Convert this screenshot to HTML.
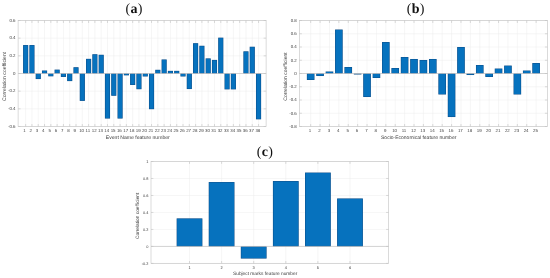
<!DOCTYPE html>
<html><head><meta charset="utf-8"><title>Figure</title>
<style>
html,body{margin:0;padding:0;background:#fff;}
body{width:550px;height:278px;overflow:hidden;}
svg{display:block;font-family:"Liberation Sans",sans-serif;text-rendering:geometricPrecision;}
.t{font-family:"Liberation Serif",serif;font-size:14px;fill:#111;letter-spacing:0.25px;}
.tb{font-weight:bold;}
</style></head><body>
<svg width="550" height="278" viewBox="0 0 550 278">
<rect width="550" height="278" fill="#fff"/>
<text class="t" x="134.1" y="13" text-anchor="middle">(<tspan class="tb">a</tspan>)</text>
<text class="t" x="415.7" y="13" text-anchor="middle">(<tspan class="tb">b</tspan>)</text>
<text class="t" x="265" y="155.6" text-anchor="middle">(<tspan class="tb">c</tspan>)</text>
<line x1="18.1" x2="266.1" y1="126.50" y2="126.50" stroke="#ececec" stroke-width="0.5"/>
<line x1="18.1" x2="266.1" y1="108.83" y2="108.83" stroke="#ececec" stroke-width="0.5"/>
<line x1="18.1" x2="266.1" y1="91.17" y2="91.17" stroke="#ececec" stroke-width="0.5"/>
<line x1="18.1" x2="266.1" y1="73.50" y2="73.50" stroke="#ececec" stroke-width="0.5"/>
<line x1="18.1" x2="266.1" y1="55.83" y2="55.83" stroke="#ececec" stroke-width="0.5"/>
<line x1="18.1" x2="266.1" y1="38.17" y2="38.17" stroke="#ececec" stroke-width="0.5"/>
<line x1="18.1" x2="266.1" y1="20.50" y2="20.50" stroke="#ececec" stroke-width="0.5"/>
<line x1="25.65" x2="25.65" y1="20.5" y2="126.5" stroke="#ececec" stroke-width="0.5"/>
<line x1="31.95" x2="31.95" y1="20.5" y2="126.5" stroke="#ececec" stroke-width="0.5"/>
<line x1="38.24" x2="38.24" y1="20.5" y2="126.5" stroke="#ececec" stroke-width="0.5"/>
<line x1="44.54" x2="44.54" y1="20.5" y2="126.5" stroke="#ececec" stroke-width="0.5"/>
<line x1="50.83" x2="50.83" y1="20.5" y2="126.5" stroke="#ececec" stroke-width="0.5"/>
<line x1="57.13" x2="57.13" y1="20.5" y2="126.5" stroke="#ececec" stroke-width="0.5"/>
<line x1="63.42" x2="63.42" y1="20.5" y2="126.5" stroke="#ececec" stroke-width="0.5"/>
<line x1="69.71" x2="69.71" y1="20.5" y2="126.5" stroke="#ececec" stroke-width="0.5"/>
<line x1="76.01" x2="76.01" y1="20.5" y2="126.5" stroke="#ececec" stroke-width="0.5"/>
<line x1="82.30" x2="82.30" y1="20.5" y2="126.5" stroke="#ececec" stroke-width="0.5"/>
<line x1="88.60" x2="88.60" y1="20.5" y2="126.5" stroke="#ececec" stroke-width="0.5"/>
<line x1="94.89" x2="94.89" y1="20.5" y2="126.5" stroke="#ececec" stroke-width="0.5"/>
<line x1="101.19" x2="101.19" y1="20.5" y2="126.5" stroke="#ececec" stroke-width="0.5"/>
<line x1="107.48" x2="107.48" y1="20.5" y2="126.5" stroke="#ececec" stroke-width="0.5"/>
<line x1="113.78" x2="113.78" y1="20.5" y2="126.5" stroke="#ececec" stroke-width="0.5"/>
<line x1="120.07" x2="120.07" y1="20.5" y2="126.5" stroke="#ececec" stroke-width="0.5"/>
<line x1="126.36" x2="126.36" y1="20.5" y2="126.5" stroke="#ececec" stroke-width="0.5"/>
<line x1="132.66" x2="132.66" y1="20.5" y2="126.5" stroke="#ececec" stroke-width="0.5"/>
<line x1="138.95" x2="138.95" y1="20.5" y2="126.5" stroke="#ececec" stroke-width="0.5"/>
<line x1="145.25" x2="145.25" y1="20.5" y2="126.5" stroke="#ececec" stroke-width="0.5"/>
<line x1="151.54" x2="151.54" y1="20.5" y2="126.5" stroke="#ececec" stroke-width="0.5"/>
<line x1="157.84" x2="157.84" y1="20.5" y2="126.5" stroke="#ececec" stroke-width="0.5"/>
<line x1="164.13" x2="164.13" y1="20.5" y2="126.5" stroke="#ececec" stroke-width="0.5"/>
<line x1="170.42" x2="170.42" y1="20.5" y2="126.5" stroke="#ececec" stroke-width="0.5"/>
<line x1="176.72" x2="176.72" y1="20.5" y2="126.5" stroke="#ececec" stroke-width="0.5"/>
<line x1="183.01" x2="183.01" y1="20.5" y2="126.5" stroke="#ececec" stroke-width="0.5"/>
<line x1="189.31" x2="189.31" y1="20.5" y2="126.5" stroke="#ececec" stroke-width="0.5"/>
<line x1="195.60" x2="195.60" y1="20.5" y2="126.5" stroke="#ececec" stroke-width="0.5"/>
<line x1="201.90" x2="201.90" y1="20.5" y2="126.5" stroke="#ececec" stroke-width="0.5"/>
<line x1="208.19" x2="208.19" y1="20.5" y2="126.5" stroke="#ececec" stroke-width="0.5"/>
<line x1="214.49" x2="214.49" y1="20.5" y2="126.5" stroke="#ececec" stroke-width="0.5"/>
<line x1="220.78" x2="220.78" y1="20.5" y2="126.5" stroke="#ececec" stroke-width="0.5"/>
<line x1="227.07" x2="227.07" y1="20.5" y2="126.5" stroke="#ececec" stroke-width="0.5"/>
<line x1="233.37" x2="233.37" y1="20.5" y2="126.5" stroke="#ececec" stroke-width="0.5"/>
<line x1="239.66" x2="239.66" y1="20.5" y2="126.5" stroke="#ececec" stroke-width="0.5"/>
<line x1="245.96" x2="245.96" y1="20.5" y2="126.5" stroke="#ececec" stroke-width="0.5"/>
<line x1="252.25" x2="252.25" y1="20.5" y2="126.5" stroke="#ececec" stroke-width="0.5"/>
<line x1="258.55" x2="258.55" y1="20.5" y2="126.5" stroke="#ececec" stroke-width="0.5"/>
<rect x="23.09" y="45.06" width="5.14" height="28.44" fill="#0a4c88"/>
<rect x="23.59" y="45.56" width="4.14" height="27.44" fill="#0672be"/>
<rect x="29.38" y="45.06" width="5.14" height="28.44" fill="#0a4c88"/>
<rect x="29.88" y="45.56" width="4.14" height="27.44" fill="#0672be"/>
<rect x="35.67" y="73.50" width="5.14" height="5.56" fill="#0a4c88"/>
<rect x="36.17" y="74.00" width="4.14" height="4.56" fill="#0672be"/>
<rect x="41.97" y="70.50" width="5.14" height="3.00" fill="#0a4c88"/>
<rect x="42.47" y="71.00" width="4.14" height="2.00" fill="#0672be"/>
<rect x="48.26" y="73.50" width="5.14" height="2.83" fill="#0a4c88"/>
<rect x="48.76" y="74.00" width="4.14" height="1.83" fill="#0672be"/>
<rect x="54.56" y="69.61" width="5.14" height="3.89" fill="#0a4c88"/>
<rect x="55.06" y="70.11" width="4.14" height="2.89" fill="#0672be"/>
<rect x="60.85" y="73.50" width="5.14" height="3.44" fill="#0a4c88"/>
<rect x="61.35" y="74.00" width="4.14" height="2.44" fill="#0672be"/>
<rect x="67.15" y="73.50" width="5.14" height="7.60" fill="#0a4c88"/>
<rect x="67.65" y="74.00" width="4.14" height="6.60" fill="#0672be"/>
<rect x="73.44" y="67.23" width="5.14" height="6.27" fill="#0a4c88"/>
<rect x="73.94" y="67.73" width="4.14" height="5.27" fill="#0672be"/>
<rect x="79.74" y="73.50" width="5.14" height="27.38" fill="#0a4c88"/>
<rect x="80.24" y="74.00" width="4.14" height="26.38" fill="#0672be"/>
<rect x="86.03" y="58.84" width="5.14" height="14.66" fill="#0a4c88"/>
<rect x="86.53" y="59.34" width="4.14" height="13.66" fill="#0672be"/>
<rect x="92.32" y="54.24" width="5.14" height="19.26" fill="#0a4c88"/>
<rect x="92.82" y="54.74" width="4.14" height="18.26" fill="#0672be"/>
<rect x="98.62" y="54.77" width="5.14" height="18.73" fill="#0a4c88"/>
<rect x="99.12" y="55.27" width="4.14" height="17.73" fill="#0672be"/>
<rect x="104.91" y="73.50" width="5.14" height="45.05" fill="#0a4c88"/>
<rect x="105.41" y="74.00" width="4.14" height="44.05" fill="#0672be"/>
<rect x="111.21" y="73.50" width="5.14" height="22.26" fill="#0a4c88"/>
<rect x="111.71" y="74.00" width="4.14" height="21.26" fill="#0672be"/>
<rect x="117.50" y="73.50" width="5.14" height="45.05" fill="#0a4c88"/>
<rect x="118.00" y="74.00" width="4.14" height="44.05" fill="#0672be"/>
<rect x="123.80" y="73.50" width="5.14" height="1.86" fill="#0a4c88"/>
<rect x="124.30" y="74.00" width="4.14" height="0.86" fill="#0672be"/>
<rect x="130.09" y="73.50" width="5.14" height="11.48" fill="#0a4c88"/>
<rect x="130.59" y="74.00" width="4.14" height="10.48" fill="#0672be"/>
<rect x="136.39" y="73.50" width="5.14" height="15.72" fill="#0a4c88"/>
<rect x="136.89" y="74.00" width="4.14" height="14.72" fill="#0672be"/>
<rect x="142.68" y="73.50" width="5.14" height="3.00" fill="#0a4c88"/>
<rect x="143.18" y="74.00" width="4.14" height="2.00" fill="#0672be"/>
<rect x="148.97" y="73.50" width="5.14" height="35.69" fill="#0a4c88"/>
<rect x="149.47" y="74.00" width="4.14" height="34.69" fill="#0672be"/>
<rect x="155.27" y="69.79" width="5.14" height="3.71" fill="#0a4c88"/>
<rect x="155.77" y="70.29" width="4.14" height="2.71" fill="#0672be"/>
<rect x="161.56" y="59.45" width="5.14" height="14.05" fill="#0a4c88"/>
<rect x="162.06" y="59.95" width="4.14" height="13.05" fill="#0672be"/>
<rect x="167.86" y="70.85" width="5.14" height="2.65" fill="#0a4c88"/>
<rect x="168.36" y="71.35" width="4.14" height="1.65" fill="#0672be"/>
<rect x="174.15" y="70.85" width="5.14" height="2.65" fill="#0a4c88"/>
<rect x="174.65" y="71.35" width="4.14" height="1.65" fill="#0672be"/>
<rect x="180.45" y="73.50" width="5.14" height="3.00" fill="#0a4c88"/>
<rect x="180.95" y="74.00" width="4.14" height="2.00" fill="#0672be"/>
<rect x="186.74" y="73.50" width="5.14" height="15.55" fill="#0a4c88"/>
<rect x="187.24" y="74.00" width="4.14" height="14.55" fill="#0672be"/>
<rect x="193.03" y="43.20" width="5.14" height="30.30" fill="#0a4c88"/>
<rect x="193.53" y="43.70" width="4.14" height="29.30" fill="#0672be"/>
<rect x="199.33" y="45.76" width="5.14" height="27.74" fill="#0a4c88"/>
<rect x="199.83" y="46.26" width="4.14" height="26.74" fill="#0672be"/>
<rect x="205.62" y="58.39" width="5.14" height="15.11" fill="#0a4c88"/>
<rect x="206.12" y="58.89" width="4.14" height="14.11" fill="#0672be"/>
<rect x="211.92" y="59.90" width="5.14" height="13.60" fill="#0a4c88"/>
<rect x="212.42" y="60.40" width="4.14" height="12.60" fill="#0672be"/>
<rect x="218.21" y="37.64" width="5.14" height="35.86" fill="#0a4c88"/>
<rect x="218.71" y="38.14" width="4.14" height="34.86" fill="#0672be"/>
<rect x="224.51" y="73.50" width="5.14" height="15.90" fill="#0a4c88"/>
<rect x="225.01" y="74.00" width="4.14" height="14.90" fill="#0672be"/>
<rect x="230.80" y="73.50" width="5.14" height="15.90" fill="#0a4c88"/>
<rect x="231.30" y="74.00" width="4.14" height="14.90" fill="#0672be"/>
<rect x="243.39" y="51.33" width="5.14" height="22.17" fill="#0a4c88"/>
<rect x="243.89" y="51.83" width="4.14" height="21.17" fill="#0672be"/>
<rect x="249.68" y="46.73" width="5.14" height="26.77" fill="#0a4c88"/>
<rect x="250.18" y="47.23" width="4.14" height="25.77" fill="#0672be"/>
<rect x="255.98" y="73.50" width="5.14" height="45.84" fill="#0a4c88"/>
<rect x="256.48" y="74.00" width="4.14" height="44.84" fill="#0672be"/>
<line x1="18.1" x2="266.1" y1="73.50" y2="73.50" stroke="#bcbcbc" stroke-width="0.6"/>
<rect x="18.1" y="20.5" width="248.00000000000003" height="106.0" fill="none" stroke="#c2c2c2" stroke-width="0.6"/>
<line x1="25.65" x2="25.65" y1="126.5" y2="124.02" stroke="#c2c2c2" stroke-width="0.6"/>
<line x1="25.65" x2="25.65" y1="20.5" y2="22.98" stroke="#c2c2c2" stroke-width="0.6"/>
<text x="24.45" y="132.2" font-size="4.4" text-anchor="middle" fill="#404040">1</text>
<line x1="31.95" x2="31.95" y1="126.5" y2="124.02" stroke="#c2c2c2" stroke-width="0.6"/>
<line x1="31.95" x2="31.95" y1="20.5" y2="22.98" stroke="#c2c2c2" stroke-width="0.6"/>
<text x="30.75" y="132.2" font-size="4.4" text-anchor="middle" fill="#404040">2</text>
<line x1="38.24" x2="38.24" y1="126.5" y2="124.02" stroke="#c2c2c2" stroke-width="0.6"/>
<line x1="38.24" x2="38.24" y1="20.5" y2="22.98" stroke="#c2c2c2" stroke-width="0.6"/>
<text x="37.04" y="132.2" font-size="4.4" text-anchor="middle" fill="#404040">3</text>
<line x1="44.54" x2="44.54" y1="126.5" y2="124.02" stroke="#c2c2c2" stroke-width="0.6"/>
<line x1="44.54" x2="44.54" y1="20.5" y2="22.98" stroke="#c2c2c2" stroke-width="0.6"/>
<text x="43.34" y="132.2" font-size="4.4" text-anchor="middle" fill="#404040">4</text>
<line x1="50.83" x2="50.83" y1="126.5" y2="124.02" stroke="#c2c2c2" stroke-width="0.6"/>
<line x1="50.83" x2="50.83" y1="20.5" y2="22.98" stroke="#c2c2c2" stroke-width="0.6"/>
<text x="49.63" y="132.2" font-size="4.4" text-anchor="middle" fill="#404040">5</text>
<line x1="57.13" x2="57.13" y1="126.5" y2="124.02" stroke="#c2c2c2" stroke-width="0.6"/>
<line x1="57.13" x2="57.13" y1="20.5" y2="22.98" stroke="#c2c2c2" stroke-width="0.6"/>
<text x="55.93" y="132.2" font-size="4.4" text-anchor="middle" fill="#404040">6</text>
<line x1="63.42" x2="63.42" y1="126.5" y2="124.02" stroke="#c2c2c2" stroke-width="0.6"/>
<line x1="63.42" x2="63.42" y1="20.5" y2="22.98" stroke="#c2c2c2" stroke-width="0.6"/>
<text x="62.22" y="132.2" font-size="4.4" text-anchor="middle" fill="#404040">7</text>
<line x1="69.71" x2="69.71" y1="126.5" y2="124.02" stroke="#c2c2c2" stroke-width="0.6"/>
<line x1="69.71" x2="69.71" y1="20.5" y2="22.98" stroke="#c2c2c2" stroke-width="0.6"/>
<text x="68.51" y="132.2" font-size="4.4" text-anchor="middle" fill="#404040">8</text>
<line x1="76.01" x2="76.01" y1="126.5" y2="124.02" stroke="#c2c2c2" stroke-width="0.6"/>
<line x1="76.01" x2="76.01" y1="20.5" y2="22.98" stroke="#c2c2c2" stroke-width="0.6"/>
<text x="74.81" y="132.2" font-size="4.4" text-anchor="middle" fill="#404040">9</text>
<line x1="82.30" x2="82.30" y1="126.5" y2="124.02" stroke="#c2c2c2" stroke-width="0.6"/>
<line x1="82.30" x2="82.30" y1="20.5" y2="22.98" stroke="#c2c2c2" stroke-width="0.6"/>
<text x="81.60" y="132.2" font-size="4.4" text-anchor="middle" fill="#404040">10</text>
<line x1="88.60" x2="88.60" y1="126.5" y2="124.02" stroke="#c2c2c2" stroke-width="0.6"/>
<line x1="88.60" x2="88.60" y1="20.5" y2="22.98" stroke="#c2c2c2" stroke-width="0.6"/>
<text x="87.90" y="132.2" font-size="4.4" text-anchor="middle" fill="#404040">11</text>
<line x1="94.89" x2="94.89" y1="126.5" y2="124.02" stroke="#c2c2c2" stroke-width="0.6"/>
<line x1="94.89" x2="94.89" y1="20.5" y2="22.98" stroke="#c2c2c2" stroke-width="0.6"/>
<text x="94.19" y="132.2" font-size="4.4" text-anchor="middle" fill="#404040">12</text>
<line x1="101.19" x2="101.19" y1="126.5" y2="124.02" stroke="#c2c2c2" stroke-width="0.6"/>
<line x1="101.19" x2="101.19" y1="20.5" y2="22.98" stroke="#c2c2c2" stroke-width="0.6"/>
<text x="100.49" y="132.2" font-size="4.4" text-anchor="middle" fill="#404040">13</text>
<line x1="107.48" x2="107.48" y1="126.5" y2="124.02" stroke="#c2c2c2" stroke-width="0.6"/>
<line x1="107.48" x2="107.48" y1="20.5" y2="22.98" stroke="#c2c2c2" stroke-width="0.6"/>
<text x="106.78" y="132.2" font-size="4.4" text-anchor="middle" fill="#404040">14</text>
<line x1="113.78" x2="113.78" y1="126.5" y2="124.02" stroke="#c2c2c2" stroke-width="0.6"/>
<line x1="113.78" x2="113.78" y1="20.5" y2="22.98" stroke="#c2c2c2" stroke-width="0.6"/>
<text x="113.08" y="132.2" font-size="4.4" text-anchor="middle" fill="#404040">15</text>
<line x1="120.07" x2="120.07" y1="126.5" y2="124.02" stroke="#c2c2c2" stroke-width="0.6"/>
<line x1="120.07" x2="120.07" y1="20.5" y2="22.98" stroke="#c2c2c2" stroke-width="0.6"/>
<text x="119.37" y="132.2" font-size="4.4" text-anchor="middle" fill="#404040">16</text>
<line x1="126.36" x2="126.36" y1="126.5" y2="124.02" stroke="#c2c2c2" stroke-width="0.6"/>
<line x1="126.36" x2="126.36" y1="20.5" y2="22.98" stroke="#c2c2c2" stroke-width="0.6"/>
<text x="125.66" y="132.2" font-size="4.4" text-anchor="middle" fill="#404040">17</text>
<line x1="132.66" x2="132.66" y1="126.5" y2="124.02" stroke="#c2c2c2" stroke-width="0.6"/>
<line x1="132.66" x2="132.66" y1="20.5" y2="22.98" stroke="#c2c2c2" stroke-width="0.6"/>
<text x="131.96" y="132.2" font-size="4.4" text-anchor="middle" fill="#404040">18</text>
<line x1="138.95" x2="138.95" y1="126.5" y2="124.02" stroke="#c2c2c2" stroke-width="0.6"/>
<line x1="138.95" x2="138.95" y1="20.5" y2="22.98" stroke="#c2c2c2" stroke-width="0.6"/>
<text x="138.25" y="132.2" font-size="4.4" text-anchor="middle" fill="#404040">19</text>
<line x1="145.25" x2="145.25" y1="126.5" y2="124.02" stroke="#c2c2c2" stroke-width="0.6"/>
<line x1="145.25" x2="145.25" y1="20.5" y2="22.98" stroke="#c2c2c2" stroke-width="0.6"/>
<text x="144.55" y="132.2" font-size="4.4" text-anchor="middle" fill="#404040">20</text>
<line x1="151.54" x2="151.54" y1="126.5" y2="124.02" stroke="#c2c2c2" stroke-width="0.6"/>
<line x1="151.54" x2="151.54" y1="20.5" y2="22.98" stroke="#c2c2c2" stroke-width="0.6"/>
<text x="150.84" y="132.2" font-size="4.4" text-anchor="middle" fill="#404040">21</text>
<line x1="157.84" x2="157.84" y1="126.5" y2="124.02" stroke="#c2c2c2" stroke-width="0.6"/>
<line x1="157.84" x2="157.84" y1="20.5" y2="22.98" stroke="#c2c2c2" stroke-width="0.6"/>
<text x="157.14" y="132.2" font-size="4.4" text-anchor="middle" fill="#404040">22</text>
<line x1="164.13" x2="164.13" y1="126.5" y2="124.02" stroke="#c2c2c2" stroke-width="0.6"/>
<line x1="164.13" x2="164.13" y1="20.5" y2="22.98" stroke="#c2c2c2" stroke-width="0.6"/>
<text x="163.43" y="132.2" font-size="4.4" text-anchor="middle" fill="#404040">23</text>
<line x1="170.42" x2="170.42" y1="126.5" y2="124.02" stroke="#c2c2c2" stroke-width="0.6"/>
<line x1="170.42" x2="170.42" y1="20.5" y2="22.98" stroke="#c2c2c2" stroke-width="0.6"/>
<text x="169.72" y="132.2" font-size="4.4" text-anchor="middle" fill="#404040">24</text>
<line x1="176.72" x2="176.72" y1="126.5" y2="124.02" stroke="#c2c2c2" stroke-width="0.6"/>
<line x1="176.72" x2="176.72" y1="20.5" y2="22.98" stroke="#c2c2c2" stroke-width="0.6"/>
<text x="176.02" y="132.2" font-size="4.4" text-anchor="middle" fill="#404040">25</text>
<line x1="183.01" x2="183.01" y1="126.5" y2="124.02" stroke="#c2c2c2" stroke-width="0.6"/>
<line x1="183.01" x2="183.01" y1="20.5" y2="22.98" stroke="#c2c2c2" stroke-width="0.6"/>
<text x="182.31" y="132.2" font-size="4.4" text-anchor="middle" fill="#404040">26</text>
<line x1="189.31" x2="189.31" y1="126.5" y2="124.02" stroke="#c2c2c2" stroke-width="0.6"/>
<line x1="189.31" x2="189.31" y1="20.5" y2="22.98" stroke="#c2c2c2" stroke-width="0.6"/>
<text x="188.61" y="132.2" font-size="4.4" text-anchor="middle" fill="#404040">27</text>
<line x1="195.60" x2="195.60" y1="126.5" y2="124.02" stroke="#c2c2c2" stroke-width="0.6"/>
<line x1="195.60" x2="195.60" y1="20.5" y2="22.98" stroke="#c2c2c2" stroke-width="0.6"/>
<text x="194.90" y="132.2" font-size="4.4" text-anchor="middle" fill="#404040">28</text>
<line x1="201.90" x2="201.90" y1="126.5" y2="124.02" stroke="#c2c2c2" stroke-width="0.6"/>
<line x1="201.90" x2="201.90" y1="20.5" y2="22.98" stroke="#c2c2c2" stroke-width="0.6"/>
<text x="201.20" y="132.2" font-size="4.4" text-anchor="middle" fill="#404040">29</text>
<line x1="208.19" x2="208.19" y1="126.5" y2="124.02" stroke="#c2c2c2" stroke-width="0.6"/>
<line x1="208.19" x2="208.19" y1="20.5" y2="22.98" stroke="#c2c2c2" stroke-width="0.6"/>
<text x="207.49" y="132.2" font-size="4.4" text-anchor="middle" fill="#404040">30</text>
<line x1="214.49" x2="214.49" y1="126.5" y2="124.02" stroke="#c2c2c2" stroke-width="0.6"/>
<line x1="214.49" x2="214.49" y1="20.5" y2="22.98" stroke="#c2c2c2" stroke-width="0.6"/>
<text x="213.79" y="132.2" font-size="4.4" text-anchor="middle" fill="#404040">31</text>
<line x1="220.78" x2="220.78" y1="126.5" y2="124.02" stroke="#c2c2c2" stroke-width="0.6"/>
<line x1="220.78" x2="220.78" y1="20.5" y2="22.98" stroke="#c2c2c2" stroke-width="0.6"/>
<text x="220.08" y="132.2" font-size="4.4" text-anchor="middle" fill="#404040">32</text>
<line x1="227.07" x2="227.07" y1="126.5" y2="124.02" stroke="#c2c2c2" stroke-width="0.6"/>
<line x1="227.07" x2="227.07" y1="20.5" y2="22.98" stroke="#c2c2c2" stroke-width="0.6"/>
<text x="226.37" y="132.2" font-size="4.4" text-anchor="middle" fill="#404040">33</text>
<line x1="233.37" x2="233.37" y1="126.5" y2="124.02" stroke="#c2c2c2" stroke-width="0.6"/>
<line x1="233.37" x2="233.37" y1="20.5" y2="22.98" stroke="#c2c2c2" stroke-width="0.6"/>
<text x="232.67" y="132.2" font-size="4.4" text-anchor="middle" fill="#404040">34</text>
<line x1="239.66" x2="239.66" y1="126.5" y2="124.02" stroke="#c2c2c2" stroke-width="0.6"/>
<line x1="239.66" x2="239.66" y1="20.5" y2="22.98" stroke="#c2c2c2" stroke-width="0.6"/>
<text x="238.96" y="132.2" font-size="4.4" text-anchor="middle" fill="#404040">35</text>
<line x1="245.96" x2="245.96" y1="126.5" y2="124.02" stroke="#c2c2c2" stroke-width="0.6"/>
<line x1="245.96" x2="245.96" y1="20.5" y2="22.98" stroke="#c2c2c2" stroke-width="0.6"/>
<text x="245.26" y="132.2" font-size="4.4" text-anchor="middle" fill="#404040">36</text>
<line x1="252.25" x2="252.25" y1="126.5" y2="124.02" stroke="#c2c2c2" stroke-width="0.6"/>
<line x1="252.25" x2="252.25" y1="20.5" y2="22.98" stroke="#c2c2c2" stroke-width="0.6"/>
<text x="251.55" y="132.2" font-size="4.4" text-anchor="middle" fill="#404040">37</text>
<line x1="258.55" x2="258.55" y1="126.5" y2="124.02" stroke="#c2c2c2" stroke-width="0.6"/>
<line x1="258.55" x2="258.55" y1="20.5" y2="22.98" stroke="#c2c2c2" stroke-width="0.6"/>
<text x="257.85" y="132.2" font-size="4.4" text-anchor="middle" fill="#404040">38</text>
<line x1="18.1" x2="20.58" y1="126.50" y2="126.50" stroke="#c2c2c2" stroke-width="0.6"/>
<line x1="266.1" x2="263.62" y1="126.50" y2="126.50" stroke="#c2c2c2" stroke-width="0.6"/>
<text x="15.50" y="127.78" font-size="4.4" text-anchor="end" fill="#404040">-0.6</text>
<line x1="18.1" x2="20.58" y1="108.83" y2="108.83" stroke="#c2c2c2" stroke-width="0.6"/>
<line x1="266.1" x2="263.62" y1="108.83" y2="108.83" stroke="#c2c2c2" stroke-width="0.6"/>
<text x="15.50" y="110.12" font-size="4.4" text-anchor="end" fill="#404040">-0.4</text>
<line x1="18.1" x2="20.58" y1="91.17" y2="91.17" stroke="#c2c2c2" stroke-width="0.6"/>
<line x1="266.1" x2="263.62" y1="91.17" y2="91.17" stroke="#c2c2c2" stroke-width="0.6"/>
<text x="15.50" y="92.45" font-size="4.4" text-anchor="end" fill="#404040">-0.2</text>
<line x1="18.1" x2="20.58" y1="73.50" y2="73.50" stroke="#c2c2c2" stroke-width="0.6"/>
<line x1="266.1" x2="263.62" y1="73.50" y2="73.50" stroke="#c2c2c2" stroke-width="0.6"/>
<text x="15.50" y="74.78" font-size="4.4" text-anchor="end" fill="#404040">0</text>
<line x1="18.1" x2="20.58" y1="55.83" y2="55.83" stroke="#c2c2c2" stroke-width="0.6"/>
<line x1="266.1" x2="263.62" y1="55.83" y2="55.83" stroke="#c2c2c2" stroke-width="0.6"/>
<text x="15.50" y="57.12" font-size="4.4" text-anchor="end" fill="#404040">0.2</text>
<line x1="18.1" x2="20.58" y1="38.17" y2="38.17" stroke="#c2c2c2" stroke-width="0.6"/>
<line x1="266.1" x2="263.62" y1="38.17" y2="38.17" stroke="#c2c2c2" stroke-width="0.6"/>
<text x="15.50" y="39.45" font-size="4.4" text-anchor="end" fill="#404040">0.4</text>
<line x1="18.1" x2="20.58" y1="20.50" y2="20.50" stroke="#c2c2c2" stroke-width="0.6"/>
<line x1="266.1" x2="263.62" y1="20.50" y2="20.50" stroke="#c2c2c2" stroke-width="0.6"/>
<text x="15.50" y="21.78" font-size="4.4" text-anchor="end" fill="#404040">0.6</text>
<text x="137.80" y="138.5" font-size="5.1" text-anchor="middle" fill="#404040">Event Name feature number</text>
<text transform="translate(6.0,76.40) rotate(-90)" font-size="5.1" text-anchor="middle" fill="#404040">Correlation coefficient</text>
<line x1="299.4" x2="547.4" y1="126.50" y2="126.50" stroke="#ececec" stroke-width="0.5"/>
<line x1="299.4" x2="547.4" y1="113.25" y2="113.25" stroke="#ececec" stroke-width="0.5"/>
<line x1="299.4" x2="547.4" y1="100.00" y2="100.00" stroke="#ececec" stroke-width="0.5"/>
<line x1="299.4" x2="547.4" y1="86.75" y2="86.75" stroke="#ececec" stroke-width="0.5"/>
<line x1="299.4" x2="547.4" y1="73.50" y2="73.50" stroke="#ececec" stroke-width="0.5"/>
<line x1="299.4" x2="547.4" y1="60.25" y2="60.25" stroke="#ececec" stroke-width="0.5"/>
<line x1="299.4" x2="547.4" y1="47.00" y2="47.00" stroke="#ececec" stroke-width="0.5"/>
<line x1="299.4" x2="547.4" y1="33.75" y2="33.75" stroke="#ececec" stroke-width="0.5"/>
<line x1="299.4" x2="547.4" y1="20.50" y2="20.50" stroke="#ececec" stroke-width="0.5"/>
<line x1="310.67" x2="310.67" y1="20.5" y2="126.5" stroke="#ececec" stroke-width="0.5"/>
<line x1="320.07" x2="320.07" y1="20.5" y2="126.5" stroke="#ececec" stroke-width="0.5"/>
<line x1="329.46" x2="329.46" y1="20.5" y2="126.5" stroke="#ececec" stroke-width="0.5"/>
<line x1="338.85" x2="338.85" y1="20.5" y2="126.5" stroke="#ececec" stroke-width="0.5"/>
<line x1="348.25" x2="348.25" y1="20.5" y2="126.5" stroke="#ececec" stroke-width="0.5"/>
<line x1="357.64" x2="357.64" y1="20.5" y2="126.5" stroke="#ececec" stroke-width="0.5"/>
<line x1="367.04" x2="367.04" y1="20.5" y2="126.5" stroke="#ececec" stroke-width="0.5"/>
<line x1="376.43" x2="376.43" y1="20.5" y2="126.5" stroke="#ececec" stroke-width="0.5"/>
<line x1="385.82" x2="385.82" y1="20.5" y2="126.5" stroke="#ececec" stroke-width="0.5"/>
<line x1="395.22" x2="395.22" y1="20.5" y2="126.5" stroke="#ececec" stroke-width="0.5"/>
<line x1="404.61" x2="404.61" y1="20.5" y2="126.5" stroke="#ececec" stroke-width="0.5"/>
<line x1="414.01" x2="414.01" y1="20.5" y2="126.5" stroke="#ececec" stroke-width="0.5"/>
<line x1="423.40" x2="423.40" y1="20.5" y2="126.5" stroke="#ececec" stroke-width="0.5"/>
<line x1="432.79" x2="432.79" y1="20.5" y2="126.5" stroke="#ececec" stroke-width="0.5"/>
<line x1="442.19" x2="442.19" y1="20.5" y2="126.5" stroke="#ececec" stroke-width="0.5"/>
<line x1="451.58" x2="451.58" y1="20.5" y2="126.5" stroke="#ececec" stroke-width="0.5"/>
<line x1="460.98" x2="460.98" y1="20.5" y2="126.5" stroke="#ececec" stroke-width="0.5"/>
<line x1="470.37" x2="470.37" y1="20.5" y2="126.5" stroke="#ececec" stroke-width="0.5"/>
<line x1="479.76" x2="479.76" y1="20.5" y2="126.5" stroke="#ececec" stroke-width="0.5"/>
<line x1="489.16" x2="489.16" y1="20.5" y2="126.5" stroke="#ececec" stroke-width="0.5"/>
<line x1="498.55" x2="498.55" y1="20.5" y2="126.5" stroke="#ececec" stroke-width="0.5"/>
<line x1="507.95" x2="507.95" y1="20.5" y2="126.5" stroke="#ececec" stroke-width="0.5"/>
<line x1="517.34" x2="517.34" y1="20.5" y2="126.5" stroke="#ececec" stroke-width="0.5"/>
<line x1="526.73" x2="526.73" y1="20.5" y2="126.5" stroke="#ececec" stroke-width="0.5"/>
<line x1="536.13" x2="536.13" y1="20.5" y2="126.5" stroke="#ececec" stroke-width="0.5"/>
<rect x="306.87" y="73.50" width="7.62" height="6.49" fill="#0a4c88"/>
<rect x="307.37" y="74.00" width="6.62" height="5.49" fill="#0672be"/>
<rect x="316.26" y="73.50" width="7.62" height="2.52" fill="#0a4c88"/>
<rect x="316.76" y="74.00" width="6.62" height="1.52" fill="#0672be"/>
<rect x="325.65" y="71.51" width="7.62" height="1.99" fill="#0a4c88"/>
<rect x="326.15" y="72.01" width="6.62" height="0.99" fill="#0672be"/>
<rect x="335.05" y="29.51" width="7.62" height="43.99" fill="#0a4c88"/>
<rect x="335.55" y="30.01" width="6.62" height="42.99" fill="#0672be"/>
<rect x="344.44" y="67.01" width="7.62" height="6.49" fill="#0a4c88"/>
<rect x="344.94" y="67.51" width="6.62" height="5.49" fill="#0672be"/>
<rect x="353.83" y="73.50" width="7.62" height="0.99" fill="#0a4c88"/>
<rect x="363.23" y="73.50" width="7.62" height="23.52" fill="#0a4c88"/>
<rect x="363.73" y="74.00" width="6.62" height="22.52" fill="#0672be"/>
<rect x="372.62" y="73.50" width="7.62" height="4.50" fill="#0a4c88"/>
<rect x="373.12" y="74.00" width="6.62" height="3.50" fill="#0672be"/>
<rect x="382.02" y="42.03" width="7.62" height="31.47" fill="#0a4c88"/>
<rect x="382.52" y="42.53" width="6.62" height="30.47" fill="#0672be"/>
<rect x="391.41" y="68.00" width="7.62" height="5.50" fill="#0a4c88"/>
<rect x="391.91" y="68.50" width="6.62" height="4.50" fill="#0672be"/>
<rect x="400.80" y="57.00" width="7.62" height="16.50" fill="#0a4c88"/>
<rect x="401.30" y="57.50" width="6.62" height="15.50" fill="#0672be"/>
<rect x="410.20" y="58.99" width="7.62" height="14.51" fill="#0a4c88"/>
<rect x="410.70" y="59.49" width="6.62" height="13.51" fill="#0672be"/>
<rect x="419.59" y="59.98" width="7.62" height="13.52" fill="#0a4c88"/>
<rect x="420.09" y="60.48" width="6.62" height="12.52" fill="#0672be"/>
<rect x="428.99" y="58.99" width="7.62" height="14.51" fill="#0a4c88"/>
<rect x="429.49" y="59.49" width="6.62" height="13.51" fill="#0672be"/>
<rect x="438.38" y="73.50" width="7.62" height="21.00" fill="#0a4c88"/>
<rect x="438.88" y="74.00" width="6.62" height="20.00" fill="#0672be"/>
<rect x="447.77" y="73.50" width="7.62" height="43.53" fill="#0a4c88"/>
<rect x="448.27" y="74.00" width="6.62" height="42.53" fill="#0672be"/>
<rect x="457.17" y="47.00" width="7.62" height="26.50" fill="#0a4c88"/>
<rect x="457.67" y="47.50" width="6.62" height="25.50" fill="#0672be"/>
<rect x="466.56" y="73.50" width="7.62" height="1.52" fill="#0a4c88"/>
<rect x="467.06" y="74.00" width="6.62" height="0.52" fill="#0672be"/>
<rect x="475.96" y="65.02" width="7.62" height="8.48" fill="#0a4c88"/>
<rect x="476.46" y="65.52" width="6.62" height="7.48" fill="#0672be"/>
<rect x="485.35" y="73.50" width="7.62" height="3.51" fill="#0a4c88"/>
<rect x="485.85" y="74.00" width="6.62" height="2.51" fill="#0672be"/>
<rect x="494.74" y="68.53" width="7.62" height="4.97" fill="#0a4c88"/>
<rect x="495.24" y="69.03" width="6.62" height="3.97" fill="#0672be"/>
<rect x="504.14" y="65.55" width="7.62" height="7.95" fill="#0a4c88"/>
<rect x="504.64" y="66.05" width="6.62" height="6.95" fill="#0672be"/>
<rect x="513.53" y="73.50" width="7.62" height="21.00" fill="#0a4c88"/>
<rect x="514.03" y="74.00" width="6.62" height="20.00" fill="#0672be"/>
<rect x="522.93" y="70.52" width="7.62" height="2.98" fill="#0a4c88"/>
<rect x="523.43" y="71.02" width="6.62" height="1.98" fill="#0672be"/>
<rect x="532.32" y="63.03" width="7.62" height="10.47" fill="#0a4c88"/>
<rect x="532.82" y="63.53" width="6.62" height="9.47" fill="#0672be"/>
<line x1="299.4" x2="547.4" y1="73.50" y2="73.50" stroke="#bcbcbc" stroke-width="0.6"/>
<rect x="299.4" y="20.5" width="248.0" height="106.0" fill="none" stroke="#c2c2c2" stroke-width="0.6"/>
<line x1="310.67" x2="310.67" y1="126.5" y2="124.02" stroke="#c2c2c2" stroke-width="0.6"/>
<line x1="310.67" x2="310.67" y1="20.5" y2="22.98" stroke="#c2c2c2" stroke-width="0.6"/>
<text x="310.07" y="132.2" font-size="4.4" text-anchor="middle" fill="#404040">1</text>
<line x1="320.07" x2="320.07" y1="126.5" y2="124.02" stroke="#c2c2c2" stroke-width="0.6"/>
<line x1="320.07" x2="320.07" y1="20.5" y2="22.98" stroke="#c2c2c2" stroke-width="0.6"/>
<text x="319.47" y="132.2" font-size="4.4" text-anchor="middle" fill="#404040">2</text>
<line x1="329.46" x2="329.46" y1="126.5" y2="124.02" stroke="#c2c2c2" stroke-width="0.6"/>
<line x1="329.46" x2="329.46" y1="20.5" y2="22.98" stroke="#c2c2c2" stroke-width="0.6"/>
<text x="328.86" y="132.2" font-size="4.4" text-anchor="middle" fill="#404040">3</text>
<line x1="338.85" x2="338.85" y1="126.5" y2="124.02" stroke="#c2c2c2" stroke-width="0.6"/>
<line x1="338.85" x2="338.85" y1="20.5" y2="22.98" stroke="#c2c2c2" stroke-width="0.6"/>
<text x="338.25" y="132.2" font-size="4.4" text-anchor="middle" fill="#404040">4</text>
<line x1="348.25" x2="348.25" y1="126.5" y2="124.02" stroke="#c2c2c2" stroke-width="0.6"/>
<line x1="348.25" x2="348.25" y1="20.5" y2="22.98" stroke="#c2c2c2" stroke-width="0.6"/>
<text x="347.65" y="132.2" font-size="4.4" text-anchor="middle" fill="#404040">5</text>
<line x1="357.64" x2="357.64" y1="126.5" y2="124.02" stroke="#c2c2c2" stroke-width="0.6"/>
<line x1="357.64" x2="357.64" y1="20.5" y2="22.98" stroke="#c2c2c2" stroke-width="0.6"/>
<text x="357.04" y="132.2" font-size="4.4" text-anchor="middle" fill="#404040">6</text>
<line x1="367.04" x2="367.04" y1="126.5" y2="124.02" stroke="#c2c2c2" stroke-width="0.6"/>
<line x1="367.04" x2="367.04" y1="20.5" y2="22.98" stroke="#c2c2c2" stroke-width="0.6"/>
<text x="366.44" y="132.2" font-size="4.4" text-anchor="middle" fill="#404040">7</text>
<line x1="376.43" x2="376.43" y1="126.5" y2="124.02" stroke="#c2c2c2" stroke-width="0.6"/>
<line x1="376.43" x2="376.43" y1="20.5" y2="22.98" stroke="#c2c2c2" stroke-width="0.6"/>
<text x="375.83" y="132.2" font-size="4.4" text-anchor="middle" fill="#404040">8</text>
<line x1="385.82" x2="385.82" y1="126.5" y2="124.02" stroke="#c2c2c2" stroke-width="0.6"/>
<line x1="385.82" x2="385.82" y1="20.5" y2="22.98" stroke="#c2c2c2" stroke-width="0.6"/>
<text x="385.22" y="132.2" font-size="4.4" text-anchor="middle" fill="#404040">9</text>
<line x1="395.22" x2="395.22" y1="126.5" y2="124.02" stroke="#c2c2c2" stroke-width="0.6"/>
<line x1="395.22" x2="395.22" y1="20.5" y2="22.98" stroke="#c2c2c2" stroke-width="0.6"/>
<text x="394.62" y="132.2" font-size="4.4" text-anchor="middle" fill="#404040">10</text>
<line x1="404.61" x2="404.61" y1="126.5" y2="124.02" stroke="#c2c2c2" stroke-width="0.6"/>
<line x1="404.61" x2="404.61" y1="20.5" y2="22.98" stroke="#c2c2c2" stroke-width="0.6"/>
<text x="404.01" y="132.2" font-size="4.4" text-anchor="middle" fill="#404040">11</text>
<line x1="414.01" x2="414.01" y1="126.5" y2="124.02" stroke="#c2c2c2" stroke-width="0.6"/>
<line x1="414.01" x2="414.01" y1="20.5" y2="22.98" stroke="#c2c2c2" stroke-width="0.6"/>
<text x="413.41" y="132.2" font-size="4.4" text-anchor="middle" fill="#404040">12</text>
<line x1="423.40" x2="423.40" y1="126.5" y2="124.02" stroke="#c2c2c2" stroke-width="0.6"/>
<line x1="423.40" x2="423.40" y1="20.5" y2="22.98" stroke="#c2c2c2" stroke-width="0.6"/>
<text x="422.80" y="132.2" font-size="4.4" text-anchor="middle" fill="#404040">13</text>
<line x1="432.79" x2="432.79" y1="126.5" y2="124.02" stroke="#c2c2c2" stroke-width="0.6"/>
<line x1="432.79" x2="432.79" y1="20.5" y2="22.98" stroke="#c2c2c2" stroke-width="0.6"/>
<text x="432.19" y="132.2" font-size="4.4" text-anchor="middle" fill="#404040">14</text>
<line x1="442.19" x2="442.19" y1="126.5" y2="124.02" stroke="#c2c2c2" stroke-width="0.6"/>
<line x1="442.19" x2="442.19" y1="20.5" y2="22.98" stroke="#c2c2c2" stroke-width="0.6"/>
<text x="441.59" y="132.2" font-size="4.4" text-anchor="middle" fill="#404040">15</text>
<line x1="451.58" x2="451.58" y1="126.5" y2="124.02" stroke="#c2c2c2" stroke-width="0.6"/>
<line x1="451.58" x2="451.58" y1="20.5" y2="22.98" stroke="#c2c2c2" stroke-width="0.6"/>
<text x="450.98" y="132.2" font-size="4.4" text-anchor="middle" fill="#404040">16</text>
<line x1="460.98" x2="460.98" y1="126.5" y2="124.02" stroke="#c2c2c2" stroke-width="0.6"/>
<line x1="460.98" x2="460.98" y1="20.5" y2="22.98" stroke="#c2c2c2" stroke-width="0.6"/>
<text x="460.38" y="132.2" font-size="4.4" text-anchor="middle" fill="#404040">17</text>
<line x1="470.37" x2="470.37" y1="126.5" y2="124.02" stroke="#c2c2c2" stroke-width="0.6"/>
<line x1="470.37" x2="470.37" y1="20.5" y2="22.98" stroke="#c2c2c2" stroke-width="0.6"/>
<text x="469.77" y="132.2" font-size="4.4" text-anchor="middle" fill="#404040">18</text>
<line x1="479.76" x2="479.76" y1="126.5" y2="124.02" stroke="#c2c2c2" stroke-width="0.6"/>
<line x1="479.76" x2="479.76" y1="20.5" y2="22.98" stroke="#c2c2c2" stroke-width="0.6"/>
<text x="479.16" y="132.2" font-size="4.4" text-anchor="middle" fill="#404040">19</text>
<line x1="489.16" x2="489.16" y1="126.5" y2="124.02" stroke="#c2c2c2" stroke-width="0.6"/>
<line x1="489.16" x2="489.16" y1="20.5" y2="22.98" stroke="#c2c2c2" stroke-width="0.6"/>
<text x="488.56" y="132.2" font-size="4.4" text-anchor="middle" fill="#404040">20</text>
<line x1="498.55" x2="498.55" y1="126.5" y2="124.02" stroke="#c2c2c2" stroke-width="0.6"/>
<line x1="498.55" x2="498.55" y1="20.5" y2="22.98" stroke="#c2c2c2" stroke-width="0.6"/>
<text x="497.95" y="132.2" font-size="4.4" text-anchor="middle" fill="#404040">21</text>
<line x1="507.95" x2="507.95" y1="126.5" y2="124.02" stroke="#c2c2c2" stroke-width="0.6"/>
<line x1="507.95" x2="507.95" y1="20.5" y2="22.98" stroke="#c2c2c2" stroke-width="0.6"/>
<text x="507.35" y="132.2" font-size="4.4" text-anchor="middle" fill="#404040">22</text>
<line x1="517.34" x2="517.34" y1="126.5" y2="124.02" stroke="#c2c2c2" stroke-width="0.6"/>
<line x1="517.34" x2="517.34" y1="20.5" y2="22.98" stroke="#c2c2c2" stroke-width="0.6"/>
<text x="516.74" y="132.2" font-size="4.4" text-anchor="middle" fill="#404040">23</text>
<line x1="526.73" x2="526.73" y1="126.5" y2="124.02" stroke="#c2c2c2" stroke-width="0.6"/>
<line x1="526.73" x2="526.73" y1="20.5" y2="22.98" stroke="#c2c2c2" stroke-width="0.6"/>
<text x="526.13" y="132.2" font-size="4.4" text-anchor="middle" fill="#404040">24</text>
<line x1="536.13" x2="536.13" y1="126.5" y2="124.02" stroke="#c2c2c2" stroke-width="0.6"/>
<line x1="536.13" x2="536.13" y1="20.5" y2="22.98" stroke="#c2c2c2" stroke-width="0.6"/>
<text x="535.53" y="132.2" font-size="4.4" text-anchor="middle" fill="#404040">25</text>
<line x1="299.4" x2="301.88" y1="126.50" y2="126.50" stroke="#c2c2c2" stroke-width="0.6"/>
<line x1="547.4" x2="544.92" y1="126.50" y2="126.50" stroke="#c2c2c2" stroke-width="0.6"/>
<text x="296.80" y="127.78" font-size="4.4" text-anchor="end" fill="#404040">-0.8</text>
<line x1="299.4" x2="301.88" y1="113.25" y2="113.25" stroke="#c2c2c2" stroke-width="0.6"/>
<line x1="547.4" x2="544.92" y1="113.25" y2="113.25" stroke="#c2c2c2" stroke-width="0.6"/>
<text x="296.80" y="114.53" font-size="4.4" text-anchor="end" fill="#404040">-0.6</text>
<line x1="299.4" x2="301.88" y1="100.00" y2="100.00" stroke="#c2c2c2" stroke-width="0.6"/>
<line x1="547.4" x2="544.92" y1="100.00" y2="100.00" stroke="#c2c2c2" stroke-width="0.6"/>
<text x="296.80" y="101.28" font-size="4.4" text-anchor="end" fill="#404040">-0.4</text>
<line x1="299.4" x2="301.88" y1="86.75" y2="86.75" stroke="#c2c2c2" stroke-width="0.6"/>
<line x1="547.4" x2="544.92" y1="86.75" y2="86.75" stroke="#c2c2c2" stroke-width="0.6"/>
<text x="296.80" y="88.03" font-size="4.4" text-anchor="end" fill="#404040">-0.2</text>
<line x1="299.4" x2="301.88" y1="73.50" y2="73.50" stroke="#c2c2c2" stroke-width="0.6"/>
<line x1="547.4" x2="544.92" y1="73.50" y2="73.50" stroke="#c2c2c2" stroke-width="0.6"/>
<text x="296.80" y="74.78" font-size="4.4" text-anchor="end" fill="#404040">0</text>
<line x1="299.4" x2="301.88" y1="60.25" y2="60.25" stroke="#c2c2c2" stroke-width="0.6"/>
<line x1="547.4" x2="544.92" y1="60.25" y2="60.25" stroke="#c2c2c2" stroke-width="0.6"/>
<text x="296.80" y="61.53" font-size="4.4" text-anchor="end" fill="#404040">0.2</text>
<line x1="299.4" x2="301.88" y1="47.00" y2="47.00" stroke="#c2c2c2" stroke-width="0.6"/>
<line x1="547.4" x2="544.92" y1="47.00" y2="47.00" stroke="#c2c2c2" stroke-width="0.6"/>
<text x="296.80" y="48.28" font-size="4.4" text-anchor="end" fill="#404040">0.4</text>
<line x1="299.4" x2="301.88" y1="33.75" y2="33.75" stroke="#c2c2c2" stroke-width="0.6"/>
<line x1="547.4" x2="544.92" y1="33.75" y2="33.75" stroke="#c2c2c2" stroke-width="0.6"/>
<text x="296.80" y="35.03" font-size="4.4" text-anchor="end" fill="#404040">0.6</text>
<line x1="299.4" x2="301.88" y1="20.50" y2="20.50" stroke="#c2c2c2" stroke-width="0.6"/>
<line x1="547.4" x2="544.92" y1="20.50" y2="20.50" stroke="#c2c2c2" stroke-width="0.6"/>
<text x="296.80" y="21.78" font-size="4.4" text-anchor="end" fill="#404040">0.8</text>
<text x="418.70" y="138.5" font-size="5.0" text-anchor="middle" fill="#404040">Socio-Economical feature number</text>
<text transform="translate(287.4,76.50) rotate(-90)" font-size="5.0" text-anchor="middle" fill="#404040">Correlation coefficient</text>
<line x1="151.0" x2="388.5" y1="263.40" y2="263.40" stroke="#ececec" stroke-width="0.5"/>
<line x1="151.0" x2="388.5" y1="246.42" y2="246.42" stroke="#ececec" stroke-width="0.5"/>
<line x1="151.0" x2="388.5" y1="229.43" y2="229.43" stroke="#ececec" stroke-width="0.5"/>
<line x1="151.0" x2="388.5" y1="212.45" y2="212.45" stroke="#ececec" stroke-width="0.5"/>
<line x1="151.0" x2="388.5" y1="195.47" y2="195.47" stroke="#ececec" stroke-width="0.5"/>
<line x1="151.0" x2="388.5" y1="178.48" y2="178.48" stroke="#ececec" stroke-width="0.5"/>
<line x1="151.0" x2="388.5" y1="161.50" y2="161.50" stroke="#ececec" stroke-width="0.5"/>
<line x1="189.51" x2="189.51" y1="161.5" y2="263.4" stroke="#ececec" stroke-width="0.5"/>
<line x1="221.61" x2="221.61" y1="161.5" y2="263.4" stroke="#ececec" stroke-width="0.5"/>
<line x1="253.70" x2="253.70" y1="161.5" y2="263.4" stroke="#ececec" stroke-width="0.5"/>
<line x1="285.80" x2="285.80" y1="161.5" y2="263.4" stroke="#ececec" stroke-width="0.5"/>
<line x1="317.89" x2="317.89" y1="161.5" y2="263.4" stroke="#ececec" stroke-width="0.5"/>
<line x1="349.99" x2="349.99" y1="161.5" y2="263.4" stroke="#ececec" stroke-width="0.5"/>
<rect x="176.63" y="218.39" width="25.78" height="28.02" fill="#0a4c88"/>
<rect x="177.13" y="218.89" width="24.78" height="27.02" fill="#0672be"/>
<rect x="208.72" y="182.05" width="25.78" height="64.37" fill="#0a4c88"/>
<rect x="209.22" y="182.55" width="24.78" height="63.37" fill="#0672be"/>
<rect x="240.81" y="246.42" width="25.78" height="12.14" fill="#0a4c88"/>
<rect x="241.31" y="246.92" width="24.78" height="11.14" fill="#0672be"/>
<rect x="272.91" y="181.03" width="25.78" height="65.39" fill="#0a4c88"/>
<rect x="273.41" y="181.53" width="24.78" height="64.39" fill="#0672be"/>
<rect x="305.00" y="172.54" width="25.78" height="73.88" fill="#0a4c88"/>
<rect x="305.50" y="173.04" width="24.78" height="72.88" fill="#0672be"/>
<rect x="337.10" y="198.44" width="25.78" height="47.98" fill="#0a4c88"/>
<rect x="337.60" y="198.94" width="24.78" height="46.98" fill="#0672be"/>
<line x1="151.0" x2="388.5" y1="246.42" y2="246.42" stroke="#bcbcbc" stroke-width="0.6"/>
<rect x="151.0" y="161.5" width="237.5" height="101.89999999999998" fill="none" stroke="#c2c2c2" stroke-width="0.6"/>
<line x1="189.51" x2="189.51" y1="263.4" y2="261.02" stroke="#c2c2c2" stroke-width="0.6"/>
<line x1="189.51" x2="189.51" y1="161.5" y2="163.88" stroke="#c2c2c2" stroke-width="0.6"/>
<text x="189.51" y="268.5" font-size="3.9" text-anchor="middle" fill="#404040">1</text>
<line x1="221.61" x2="221.61" y1="263.4" y2="261.02" stroke="#c2c2c2" stroke-width="0.6"/>
<line x1="221.61" x2="221.61" y1="161.5" y2="163.88" stroke="#c2c2c2" stroke-width="0.6"/>
<text x="221.61" y="268.5" font-size="3.9" text-anchor="middle" fill="#404040">2</text>
<line x1="253.70" x2="253.70" y1="263.4" y2="261.02" stroke="#c2c2c2" stroke-width="0.6"/>
<line x1="253.70" x2="253.70" y1="161.5" y2="163.88" stroke="#c2c2c2" stroke-width="0.6"/>
<text x="253.70" y="268.5" font-size="3.9" text-anchor="middle" fill="#404040">3</text>
<line x1="285.80" x2="285.80" y1="263.4" y2="261.02" stroke="#c2c2c2" stroke-width="0.6"/>
<line x1="285.80" x2="285.80" y1="161.5" y2="163.88" stroke="#c2c2c2" stroke-width="0.6"/>
<text x="285.80" y="268.5" font-size="3.9" text-anchor="middle" fill="#404040">4</text>
<line x1="317.89" x2="317.89" y1="263.4" y2="261.02" stroke="#c2c2c2" stroke-width="0.6"/>
<line x1="317.89" x2="317.89" y1="161.5" y2="163.88" stroke="#c2c2c2" stroke-width="0.6"/>
<text x="317.89" y="268.5" font-size="3.9" text-anchor="middle" fill="#404040">5</text>
<line x1="349.99" x2="349.99" y1="263.4" y2="261.02" stroke="#c2c2c2" stroke-width="0.6"/>
<line x1="349.99" x2="349.99" y1="161.5" y2="163.88" stroke="#c2c2c2" stroke-width="0.6"/>
<text x="349.99" y="268.5" font-size="3.9" text-anchor="middle" fill="#404040">6</text>
<line x1="151.0" x2="153.38" y1="263.40" y2="263.40" stroke="#c2c2c2" stroke-width="0.6"/>
<line x1="388.5" x2="386.12" y1="263.40" y2="263.40" stroke="#c2c2c2" stroke-width="0.6"/>
<text x="148.40" y="264.50" font-size="3.9" text-anchor="end" fill="#404040">-0.2</text>
<line x1="151.0" x2="153.38" y1="246.42" y2="246.42" stroke="#c2c2c2" stroke-width="0.6"/>
<line x1="388.5" x2="386.12" y1="246.42" y2="246.42" stroke="#c2c2c2" stroke-width="0.6"/>
<text x="148.40" y="247.52" font-size="3.9" text-anchor="end" fill="#404040">0</text>
<line x1="151.0" x2="153.38" y1="229.43" y2="229.43" stroke="#c2c2c2" stroke-width="0.6"/>
<line x1="388.5" x2="386.12" y1="229.43" y2="229.43" stroke="#c2c2c2" stroke-width="0.6"/>
<text x="148.40" y="230.54" font-size="3.9" text-anchor="end" fill="#404040">0.2</text>
<line x1="151.0" x2="153.38" y1="212.45" y2="212.45" stroke="#c2c2c2" stroke-width="0.6"/>
<line x1="388.5" x2="386.12" y1="212.45" y2="212.45" stroke="#c2c2c2" stroke-width="0.6"/>
<text x="148.40" y="213.55" font-size="3.9" text-anchor="end" fill="#404040">0.4</text>
<line x1="151.0" x2="153.38" y1="195.47" y2="195.47" stroke="#c2c2c2" stroke-width="0.6"/>
<line x1="388.5" x2="386.12" y1="195.47" y2="195.47" stroke="#c2c2c2" stroke-width="0.6"/>
<text x="148.40" y="196.57" font-size="3.9" text-anchor="end" fill="#404040">0.6</text>
<line x1="151.0" x2="153.38" y1="178.48" y2="178.48" stroke="#c2c2c2" stroke-width="0.6"/>
<line x1="388.5" x2="386.12" y1="178.48" y2="178.48" stroke="#c2c2c2" stroke-width="0.6"/>
<text x="148.40" y="179.59" font-size="3.9" text-anchor="end" fill="#404040">0.8</text>
<line x1="151.0" x2="153.38" y1="161.50" y2="161.50" stroke="#c2c2c2" stroke-width="0.6"/>
<line x1="388.5" x2="386.12" y1="161.50" y2="161.50" stroke="#c2c2c2" stroke-width="0.6"/>
<text x="148.40" y="162.60" font-size="3.9" text-anchor="end" fill="#404040">1</text>
<text x="265.15" y="274.5" font-size="4.8" text-anchor="middle" fill="#404040">Subject marks feature number</text>
<text transform="translate(139.0,215.85) rotate(-90)" font-size="4.8" text-anchor="middle" fill="#404040">Correlation coefficient</text>
</svg>
</body></html>
